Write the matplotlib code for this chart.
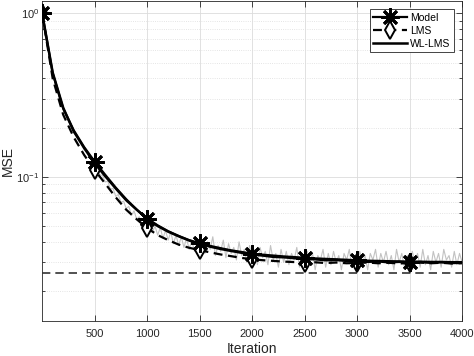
import matplotlib

matplotlib.use("Agg")
import matplotlib.pyplot as plt  # noqa: E402

plt.rcParams["font.family"] = ["Liberation Sans", "DejaVu Sans"]
plt.rcParams["mathtext.fontset"] = "custom"
plt.rcParams["mathtext.rm"] = "Liberation Sans"
plt.rcParams["mathtext.it"] = "Liberation Sans"

# smooth curves, sampled every 100 iterations
iters_smooth = list(range(0, 4001, 100))
model_mse = [
    1.0, 0.43, 0.262, 0.193, 0.152, 0.124, 0.103, 0.086, 0.073, 0.063,
    0.0556, 0.0505, 0.0465, 0.0435, 0.0410, 0.0392, 0.0378, 0.0366, 0.0355, 0.0347,
    0.0339, 0.0334, 0.0330, 0.0326, 0.0323, 0.0320, 0.0317, 0.0315, 0.0313, 0.0311,
    0.0309, 0.0307, 0.0306, 0.0305, 0.0304, 0.0303, 0.0303, 0.0302, 0.0302, 0.0301,
    0.0301,
]
wl_lms_mse = [
    1.0, 0.435, 0.265, 0.190, 0.150, 0.121, 0.101, 0.085, 0.072, 0.063,
    0.0553, 0.0500, 0.0462, 0.0433, 0.0408, 0.0389, 0.0374, 0.0362, 0.0352, 0.0343,
    0.0335, 0.0330, 0.0324, 0.0322, 0.0318, 0.0314, 0.0313, 0.0309, 0.0310, 0.0306,
    0.0305, 0.0302, 0.0304, 0.0300, 0.0302, 0.0299, 0.0301, 0.0298, 0.0300, 0.0297,
    0.0298,
]
lms_mse = [
    1.0, 0.40, 0.240, 0.175, 0.136, 0.110, 0.091, 0.075, 0.063, 0.055,
    0.0486, 0.0440, 0.0410, 0.0385, 0.0368, 0.0356, 0.0345, 0.0335, 0.0327, 0.0319,
    0.0313, 0.0309, 0.0306, 0.0303, 0.0301, 0.0299, 0.0300, 0.0297, 0.0299, 0.0296,
    0.0297, 0.0299, 0.0296, 0.0298, 0.0295, 0.0297, 0.0299, 0.0296, 0.0298, 0.0295,
    0.0296,
]

# single-run learning curve (gray), sampled every 25 iterations
iters_noisy = list(range(0, 4001, 25))
noisy_mse = [
    1.0, 0.80, 0.64, 0.52, 0.43, 0.37, 0.325, 0.29, 0.255, 0.238,
    0.218, 0.202, 0.186, 0.179, 0.166, 0.160, 0.146, 0.143, 0.130, 0.127,
    0.114, 0.113, 0.103, 0.102, 0.093, 0.094, 0.084, 0.085, 0.076, 0.078,
    0.070, 0.071, 0.064, 0.066, 0.058, 0.062, 0.055, 0.057, 0.050, 0.054,
    0.048, 0.053, 0.046, 0.050, 0.044, 0.049, 0.042, 0.047, 0.041, 0.046,
    0.039, 0.044, 0.038, 0.043, 0.037, 0.042, 0.036, 0.041, 0.035, 0.040,
    0.035, 0.041, 0.034, 0.040, 0.036, 0.043, 0.033, 0.038, 0.035, 0.041,
    0.032, 0.039, 0.034, 0.037, 0.031, 0.040, 0.033, 0.036, 0.030, 0.038,
    0.031, 0.036, 0.029, 0.037, 0.032, 0.035, 0.029, 0.038, 0.031, 0.034,
    0.028, 0.036, 0.030, 0.035, 0.029, 0.034, 0.031, 0.037, 0.028, 0.033,
    0.029, 0.035, 0.030, 0.034, 0.027, 0.033, 0.031, 0.036, 0.028, 0.034,
    0.029, 0.035, 0.030, 0.033, 0.027, 0.034, 0.031, 0.036, 0.028, 0.033,
    0.029, 0.035, 0.030, 0.033, 0.027, 0.034, 0.031, 0.036, 0.028, 0.034,
    0.030, 0.035, 0.029, 0.033, 0.027, 0.036, 0.030, 0.034, 0.028, 0.033,
    0.029, 0.035, 0.030, 0.034, 0.028, 0.036, 0.029, 0.033, 0.027, 0.035,
    0.030, 0.034, 0.028, 0.036, 0.031, 0.033, 0.028, 0.035, 0.029, 0.034,
    0.030,
]

steady_state = 0.0259
marker_iters = [0, 500, 1000, 1500, 2000, 2500, 3000, 3500]
x_ticks = [500, 1000, 1500, 2000, 2500, 3000, 3500, 4000]

fig = plt.figure(figsize=(4.74, 3.56), dpi=100)
ax = fig.add_axes([0.089, 0.098, 0.886, 0.899])

ax.plot(iters_noisy, noisy_mse, color="#c2c2c2", lw=0.8, zorder=2)
ax.axhline(steady_state, color="#333333", lw=1.2, ls=(0, (5, 3)), zorder=3)

mk_idx = [iters_smooth.index(m) for m in marker_iters]
ax.plot(iters_smooth, lms_mse, color="k", lw=1.6, ls=(0, (4, 2.5)),
        marker="d", ms=9, mfc="white", mec="k", mew=1.4, markevery=mk_idx,
        zorder=4, label="LMS")
ax.plot(iters_smooth, wl_lms_mse, color="k", lw=1.8, zorder=5, label="WL-LMS")
ax.plot(iters_smooth, model_mse, color="k", lw=1.6,
        marker=(8, 2, 0), ms=13, mew=2.0, markevery=mk_idx,
        zorder=6, label="Model")

ax.set_yscale("log")
ax.set_xlim(0, 4000)
ax.set_ylim(0.0131, 1.19)
ax.set_xticks(x_ticks)
ax.set_yticks([0.1, 1.0])
ax.set_yticklabels([r"$10^{-1}$", r"$10^{0}$"])
ax.tick_params(which="both", direction="in", top=True, right=True,
               labelsize=8, colors="#262626", width=0.6)
ax.tick_params(which="major", length=4)
ax.tick_params(which="minor", length=2.5)
ax.tick_params(axis="x", pad=6)
ax.tick_params(axis="y", pad=2)

ax.grid(True, which="major", color="#dcdcdc", lw=0.6)
ax.grid(True, which="minor", axis="y", color="#dcdcdc", lw=0.6, ls=":")
ax.set_axisbelow(True)
for sp in ax.spines.values():
    sp.set_color("#262626")
    sp.set_linewidth(0.6)

ax.set_xlabel("Iteration", fontsize=10, color="#262626")
ax.set_ylabel("MSE", fontsize=10, color="#262626")
ax.xaxis.set_label_coords(0.5, -0.066)
ax.yaxis.set_label_coords(-0.064, 0.5)

handles, labels = ax.get_legend_handles_labels()
order = [labels.index(n) for n in ("Model", "LMS", "WL-LMS")]
leg = ax.legend([handles[i] for i in order], [labels[i] for i in order],
                loc="upper right", fontsize=7.5, handlelength=3.3,
                borderaxespad=0.8, framealpha=1, fancybox=False,
                edgecolor="#262626", labelspacing=0.3, borderpad=0.3,
                handletextpad=0.3)
leg.get_frame().set_linewidth(0.6)

fig.savefig("out.png", dpi=100)
